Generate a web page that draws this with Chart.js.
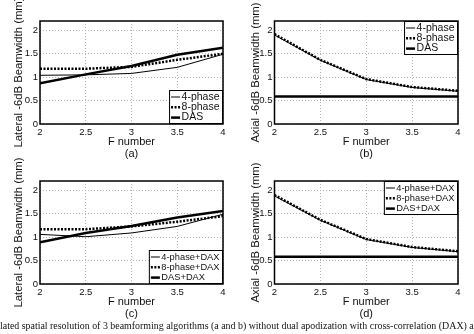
<!DOCTYPE html>
<html>
<head>
<meta charset="utf-8">
<script src="https://cdn.jsdelivr.net/npm/chart.js@4.4.1/dist/chart.umd.min.js"></script>
<style>
  html, body { margin: 0; padding: 0; background: #fff; }
  body { width: 474px; height: 334px; position: relative; overflow: hidden; }
  canvas { position: absolute; }
  #caption {
    position: absolute; left: 0; top: 320px; white-space: nowrap;
    font-family: "Liberation Serif", "DejaVu Serif", serif; font-size: 10px; color: #111;
  }
</style>
</head>
<body>
<canvas id="chartA" width="237" height="177" style="left:0;top:-10px"></canvas>
<canvas id="chartB" width="237" height="177" style="left:237px;top:-10px"></canvas>
<canvas id="chartC" width="237" height="177" style="left:0;top:150px"></canvas>
<canvas id="chartD" width="237" height="177" style="left:237px;top:150px"></canvas>
<div id="caption">lated spatial resolution of 3 beamforming algorithms (a and b) without dual apodization with cross-correlation (DAX) a</div>

<script>
// --- Data ---
const fNumbers = [2, 2.5, 3, 3.5, 4];
const xTickValues = [2, 2.5, 3, 3.5, 4];
const yTickValues = [0, 0.5, 1, 1.5, 2];

const labelsPlain = ['4-phase', '8-phase', 'DAS'];
const labelsDAX = ['4-phase+DAX', '8-phase+DAX', 'DAS+DAX'];

// (a) lateral, no DAX
const lateral4Phase = [1.04, 1.05, 1.08, 1.21, 1.49];
const lateral8Phase = [1.18, 1.18, 1.22, 1.37, 1.50];
const lateralDAS    = [0.87, 1.06, 1.24, 1.48, 1.63];

// (b) axial, no DAX
const axial4Phase = [1.90, 1.36, 0.95, 0.78, 0.70];
const axial8Phase = [1.92, 1.37, 0.96, 0.79, 0.71];
const axialDAS    = [0.59, 0.59, 0.59, 0.59, 0.59];

// (c) lateral, with DAX
const lateral4PhaseDAX = [1.06, 1.01, 1.09, 1.23, 1.49];
const lateral8PhaseDAX = [1.17, 1.17, 1.23, 1.33, 1.45];
const lateralDASDAX    = [0.89, 1.09, 1.24, 1.42, 1.56];

// (d) axial, with DAX
const axial4PhaseDAX = [1.88, 1.36, 0.95, 0.78, 0.69];
const axial8PhaseDAX = [1.90, 1.37, 0.96, 0.79, 0.70];
const axialDASDAX    = [0.58, 0.58, 0.58, 0.58, 0.58];

const FONT = '"Liberation Sans", Arial, sans-serif';
const INK = '#111';
Chart.defaults.font.family = FONT;
Chart.defaults.color = INK;

// thin solid / dotted / thick solid, like the matlab plot
const lineStyles = [
  { borderWidth: 1, borderDash: [], order: 3 },
  { borderWidth: 2.5, borderDash: [2, 1.5], order: 2 },
  { borderWidth: 2.5, borderDash: [], order: 1 }
];

// y title, axes frame and a boxed legend inside the plot area
const matlabDecor = {
  id: 'matlabDecor',
  afterDraw(chart, args, opts) {
    const { ctx, chartArea: a } = chart;
    ctx.save();

    // rotated y title (can run off the top like in the figure)
    ctx.save();
    ctx.translate(18.5, (a.top + a.bottom) / 2);
    ctx.rotate(-Math.PI / 2);
    ctx.font = '11.3px ' + FONT;
    ctx.fillStyle = INK;
    ctx.textAlign = 'center';
    ctx.textBaseline = 'middle';
    ctx.fillText(opts.yTitle, 0, 0);
    ctx.restore();

    ctx.font = opts.fontSize + 'px ' + FONT;
    const sets = chart.data.datasets;
    const tw = Math.max(...sets.map(d => ctx.measureText(d.label).width));
    const w = tw + 16, h = 34;
    const x = a.right - w;
    const y = opts.corner === 'top' ? a.top : a.bottom - h;
    ctx.fillStyle = '#fff';
    ctx.fillRect(x, y, w, h);
    ctx.strokeStyle = '#000';
    ctx.lineWidth = 1;
    ctx.strokeRect(x + 0.5, y + 0.5, w - 1, h - 1);
    sets.forEach((d, i) => {
      const cy = y + 7 + i * 10.3;
      ctx.beginPath();
      ctx.setLineDash(d.borderDash || []);
      ctx.lineWidth = d.borderWidth;
      ctx.moveTo(x + 2, cy);
      ctx.lineTo(x + 11, cy);
      ctx.stroke();
      ctx.setLineDash([]);
      ctx.fillStyle = INK;
      ctx.textAlign = 'left';
      ctx.textBaseline = 'middle';
      ctx.fillText(d.label, x + 12.5, cy);
    });

    // axes frame
    ctx.lineWidth = 1.5;
    ctx.strokeStyle = '#000';
    ctx.strokeRect(a.left, a.top, a.right - a.left, a.bottom - a.top);
    ctx.restore();
  }
};

function makePanel(canvasId, yTitle, tag, labels, series, legendCorner, legendFont, yAxisWidth, padRight) {
  const datasets = series.map((vals, i) => ({
    label: labels[i],
    data: fNumbers.map((f, j) => ({ x: f, y: vals[j] })),
    borderColor: '#000',
    backgroundColor: '#000',
    borderWidth: lineStyles[i].borderWidth,
    borderDash: lineStyles[i].borderDash,
    order: lineStyles[i].order,
    pointRadius: 0,
    tension: 0,
    fill: false
  }));

  new Chart(document.getElementById(canvasId), {
    type: 'line',
    data: { datasets },
    plugins: [matlabDecor],
    options: {
      responsive: false,
      animation: false,
      layout: { padding: { top: 31, right: padRight, bottom: 0, left: 0 } },
      scales: {
        x: {
          type: 'linear', min: 2, max: 4,
          afterBuildTicks: s => { s.ticks = xTickValues.map(v => ({ value: v })); },
          afterFit: s => { s.height = 43; },
          grid: { color: '#b4b4b4', lineWidth: 1, drawTicks: false },
          border: { display: false, dash: [1, 2] },
          ticks: {
            padding: 3, font: { size: 9.5 }, color: INK, maxRotation: 0, autoSkip: false,
            callback: v => String(v)
          },
          title: {
            display: true, text: ['F number', tag], color: INK,
            font: { size: 11, lineHeight: 1.05 },
            padding: { top: 0, bottom: 7.7 }
          }
        },
        y: {
          min: 0, max: 2.2,
          afterBuildTicks: s => { s.ticks = yTickValues.map(v => ({ value: v })); },
          afterFit: s => { s.width = yAxisWidth; },
          grid: { color: '#b4b4b4', lineWidth: 1, drawTicks: false },
          border: { display: false, dash: [1, 2] },
          ticks: { padding: 2, font: { size: 9.5 }, color: INK, callback: v => String(v) },
          title: { display: false }
        }
      },
      plugins: {
        legend: { display: false },
        tooltip: { enabled: false },
        matlabDecor: { corner: legendCorner, fontSize: legendFont, yTitle: yTitle }
      }
    }
  });
}

makePanel('chartA', 'Lateral -6dB Beamwidth (mm)', '(a)', labelsPlain,
  [lateral4Phase, lateral8Phase, lateralDAS], 'bottom', 10.5, 40, 14);
makePanel('chartB', 'Axial -6dB Beamwidth (mm)', '(b)', labelsPlain,
  [axial4Phase, axial8Phase, axialDAS], 'top', 10.5, 37.5, 16);
makePanel('chartC', 'Lateral -6dB Beamwidth (mm)', '(c)', labelsDAX,
  [lateral4PhaseDAX, lateral8PhaseDAX, lateralDASDAX], 'bottom', 9.3, 40, 14);
makePanel('chartD', 'Axial -6dB Beamwidth (mm)', '(d)', labelsDAX,
  [axial4PhaseDAX, axial8PhaseDAX, axialDASDAX], 'top', 9.3, 37.5, 16);

// stretch the cut-off caption line across the page width
const cap = document.getElementById('caption');
cap.style.fontSize = (10 * 474 / cap.offsetWidth) + 'px';
</script>
</body>
</html>
